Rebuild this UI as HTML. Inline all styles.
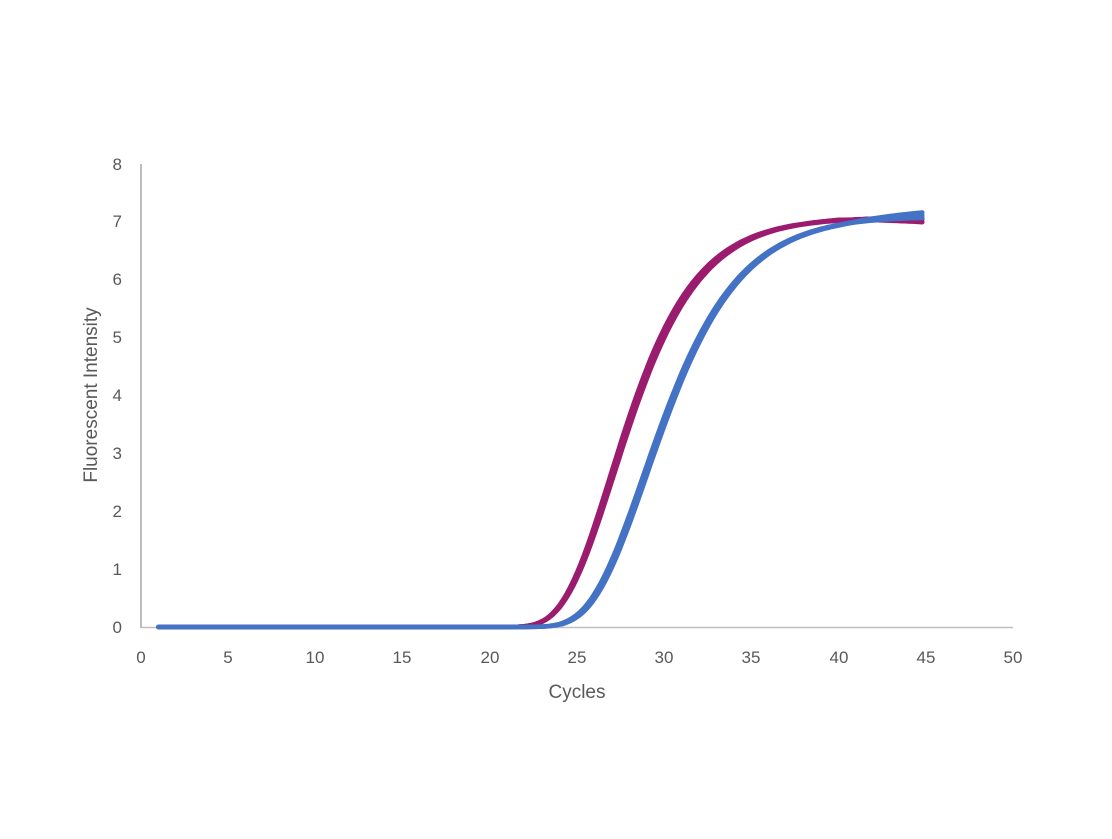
<!DOCTYPE html>
<html><head><meta charset="utf-8"><style>
body{margin:0;background:#fff;width:1112px;height:834px;overflow:hidden}
text{font-family:"Liberation Sans",sans-serif;fill:#595959}
</style></head><body>
<svg id="s" width="1112" height="834" xmlns="http://www.w3.org/2000/svg">
<line x1="141" y1="164" x2="141" y2="628" stroke="#a6a6a6" stroke-width="1.5"/>
<line x1="141" y1="627.5" x2="1013" y2="627.5" stroke="#bfbfbf" stroke-width="1.5"/>
<g font-size="17" text-anchor="end">
<text x="122" y="633">0</text><text x="122" y="575">1</text><text x="122" y="517">2</text><text x="122" y="459">3</text><text x="122" y="401">4</text><text x="122" y="343">5</text><text x="122" y="285">6</text><text x="122" y="227">7</text><text x="122" y="170">8</text>
</g>
<g font-size="17" text-anchor="middle">
<text x="141" y="663">0</text><text x="228" y="663">5</text><text x="315" y="663">10</text><text x="402" y="663">15</text><text x="490" y="663">20</text><text x="577" y="663">25</text><text x="664" y="663">30</text><text x="751" y="663">35</text><text x="839" y="663">40</text><text x="926" y="663">45</text><text x="1013" y="663">50</text>
</g>
<text x="577" y="698" font-size="19" text-anchor="middle">Cycles</text>
<text transform="translate(97,395) rotate(-90)" font-size="19" text-anchor="middle">Fluorescent Intensity</text>
<g id="c" fill="none" stroke-width="4.5" stroke-linecap="round"></g>
</svg>
<script>
var g=document.getElementById('c');
function X(v){return 141+v*17.44}function Y(v){return 627-v*57.9}
function add(m,c,A,col,end){var d='';for(var x=1;x<=45;x+=0.2){var y=A*Math.exp(-Math.exp(-c*(x-m)));if(x>40)y+=(end-A)*(x-40)/5;d+=(d?'L':'M')+X(x).toFixed(1)+' '+Y(y).toFixed(1);}
var p=document.createElementNS('http://www.w3.org/2000/svg','path');p.setAttribute('d',d);p.setAttribute('stroke',col);g.appendChild(p);}
add(27.0,0.365,7.08,'#9b1b6e',7.05);add(27.1,0.36,7.1,'#9b1b6e',7.0);add(26.9,0.37,7.08,'#9b1b6e',7.08);
add(28.9,0.33,7.12,'#4472c4',7.2);add(28.8,0.33,7.12,'#4472c4',7.1);add(29.0,0.33,7.12,'#4472c4',7.15);
</script>
</body></html>
